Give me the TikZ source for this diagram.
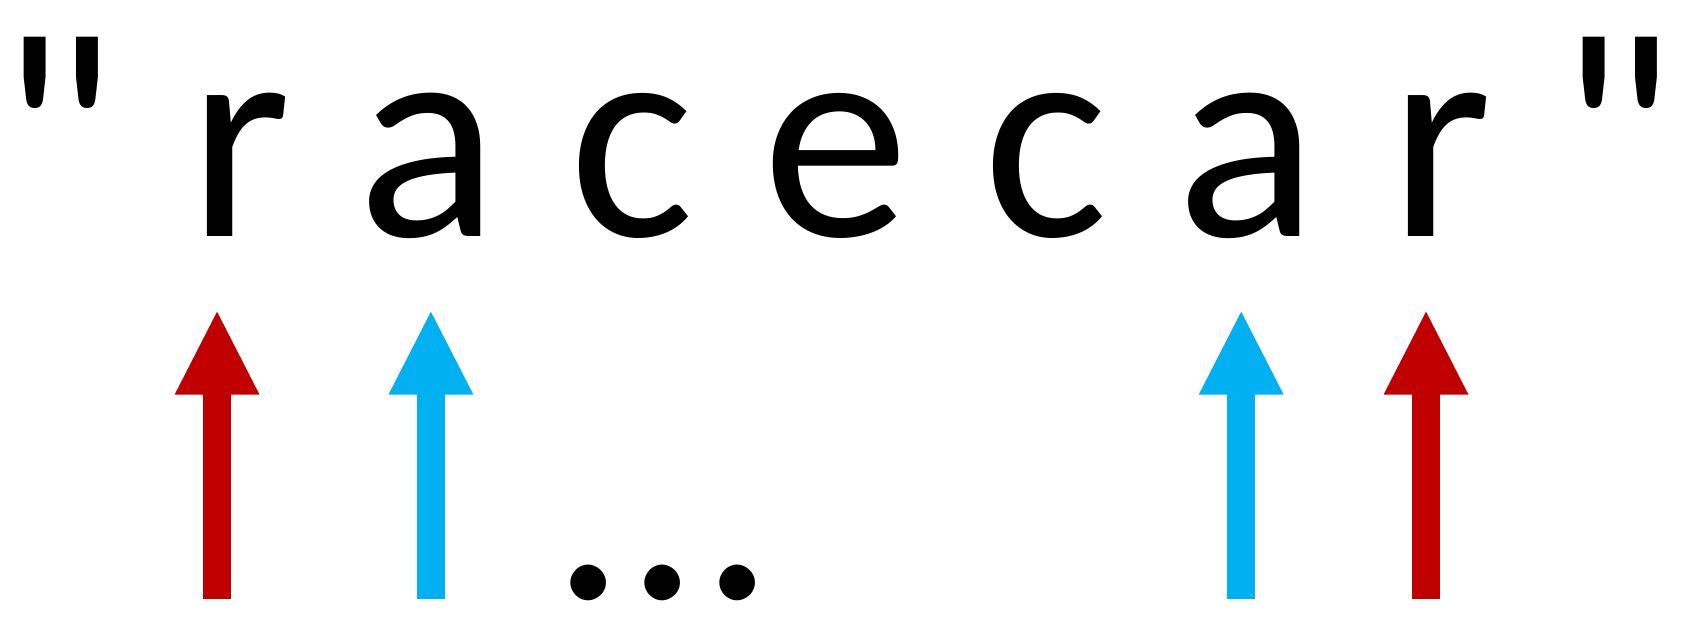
\documentclass[tikz,border=0pt]{standalone}
\usepackage{fontspec}
\setmainfont{Carlito}
\newfontfamily\quotefont{Carlito}
\usetikzlibrary{arrows.meta}

\definecolor{ptrred}{RGB}{192,0,0}
\definecolor{ptrblue}{RGB}{0,176,240}

\tikzset{
  letter/.style={anchor=base,inner sep=0pt,font=\fontsize{206}{206}\selectfont},
  quote/.style={letter,font=\fontsize{206}{206}\quotefont},
  ptr/.style={line width=19.5pt,-{Triangle[width=54.5pt 0 0,length=59.5pt 0 0]}}
}

\begin{document}
\begin{tikzpicture}[x=0.75pt,y=0.75pt,yscale=-1,xscale=1]
\useasboundingbox (0,0) rectangle (1568,595);

% Text Node
\node [quote] (qL) at (54,220) {"};
% Text Node
\node [letter] (r1) at (223,220) {r};
% Text Node
\node [letter] (a1) at (398,220) {a};
% Text Node
\node [letter] (c1) at (588,220) {c};
% Text Node
\node [letter] (e1) at (778,220) {e};
% Text Node
\node [letter] (c2) at (973,220) {c};
% Text Node
\node [letter] (a2) at (1161,220) {a};
% Text Node
\node [letter] (r2) at (1341,220) {r};
% Text Node
\node [quote] (qR) at (1504,220) {"};
% Text Node
\node [letter] (dots) at (617,557) {...};

%Pointer coordinates
\coordinate (p1b) at (202,557);
\coordinate (p1t) at (202,288);
\coordinate (p2b) at (401,557);
\coordinate (p2t) at (401,288);
\coordinate (p3b) at (1155,557);
\coordinate (p3t) at (1155,288);
\coordinate (p4b) at (1327,557);
\coordinate (p4t) at (1327,288);

%Straight Lines
\draw [ptr,ptrred] (p1b) -- (p1t);
%Straight Lines
\draw [ptr,ptrblue] (p2b) -- (p2t);
%Straight Lines
\draw [ptr,ptrblue] (p3b) -- (p3t);
%Straight Lines
\draw [ptr,ptrred] (p4b) -- (p4t);

\end{tikzpicture}
\end{document}
